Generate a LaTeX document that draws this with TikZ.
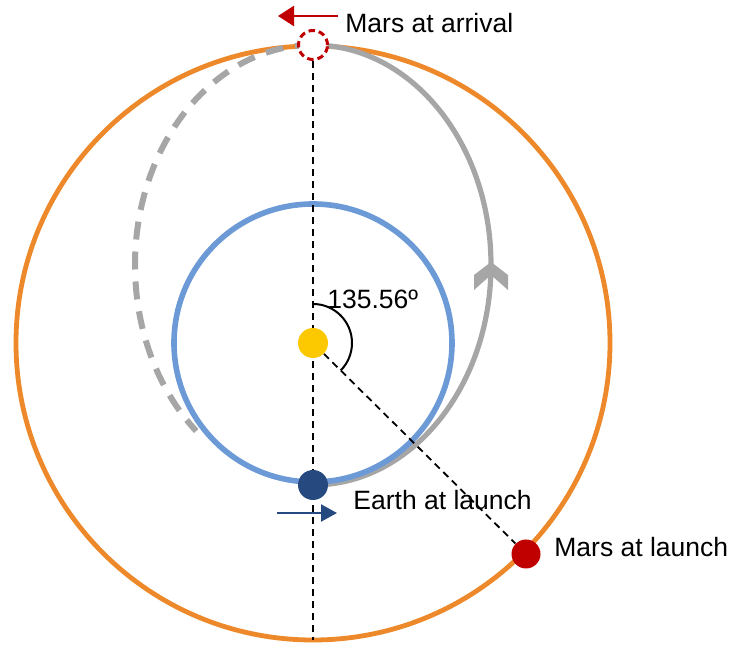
\documentclass[tikz,border=0pt]{standalone}
\usepackage{fontspec}
\setmainfont{Liberation Sans}
\usetikzlibrary{arrows.meta,backgrounds}
\definecolor{marsorb}{RGB}{237,137,42}
\definecolor{earthorb}{RGB}{108,154,214}
\definecolor{transfer}{RGB}{166,166,166}
\definecolor{sunc}{RGB}{252,200,0}
\definecolor{earthc}{RGB}{38,74,128}
\definecolor{marsc}{RGB}{192,0,0}
\tikzset{
  body/.style={circle,inner sep=0pt,minimum size=15pt},
  lbl/.style={anchor=base west,inner sep=0pt,font=\fontsize{13.25}{15}\selectfont},
  aux/.style={black,line width=0.9pt,dash pattern=on 3.5pt off 2.5pt},
  hohmann/.style={transfer,line width=2.6pt},
}
\begin{document}
\begin{tikzpicture}[x=0.5pt,y=0.5pt]
   \useasboundingbox (-313,-308) rectangle (430,343);
   \node[body,fill=sunc] (sun) at (0,0) {};
   \node[body,fill=earthc] (earth) at (0,-142) {};
   \node[body,minimum size=14.5pt,fill=marsc] (marsL) at (213,-211) {};
   \node[body,minimum size=14.5pt,fill=white,draw=marsc,line width=1.5pt,
         dash pattern=on 3.2pt off 2pt] (marsA) at (0,298) {};
   \coordinate (bot) at (0,-297);
   \begin{scope}[on background layer]
    \draw[marsorb,line width=2.4pt] (sun) circle[radius=297];
    \draw[hohmann] (0,298) arc[start angle=90,end angle=-90,x radius=178,y radius=220];
    \draw[hohmann,line width=3pt,dash pattern=on 9pt off 6pt]
          (0,298) arc[start angle=90,end angle=229,x radius=178,y radius=220];
    \draw[earthorb,line width=2.8pt] (sun) circle[radius=139];
    \draw[aux] (marsA) -- (bot);
    \draw[aux] (sun) -- (marsL);
   \end{scope}
   \fill[transfer] (178,68) ++(0,13) -- ++(-17,-13) -- ++(0,-15) -- ++(17,15)
          -- ++(17,-15) -- ++(0,15) -- cycle;
   \draw[line width=1pt] (0,39) arc[start angle=90,end angle=-44.7,radius=39];
   \coordinate (redtail) at (25,327);
   \coordinate (redhead) at (-35,327);
   \draw[marsc,line width=1.3pt,-{Triangle[length=8pt,width=10pt]}] (redtail) -- (redhead);
   \coordinate (bluetail) at (-36,-170);
   \coordinate (bluehead) at (24,-170);
   \draw[earthc,line width=1.1pt,-{Triangle[length=8pt,width=8.5pt]}] (bluetail) -- (bluehead);
   \node[lbl] (arrival) at (32,310) {Mars at arrival};
   \node[lbl] (elaunch) at (40,-167) {Earth at launch};
   \node[lbl] (mlaunch) at (241,-214) {Mars at launch};
   \node[lbl] (angle) at (14,34) {135.56º};
 \end{tikzpicture}
\end{document}
